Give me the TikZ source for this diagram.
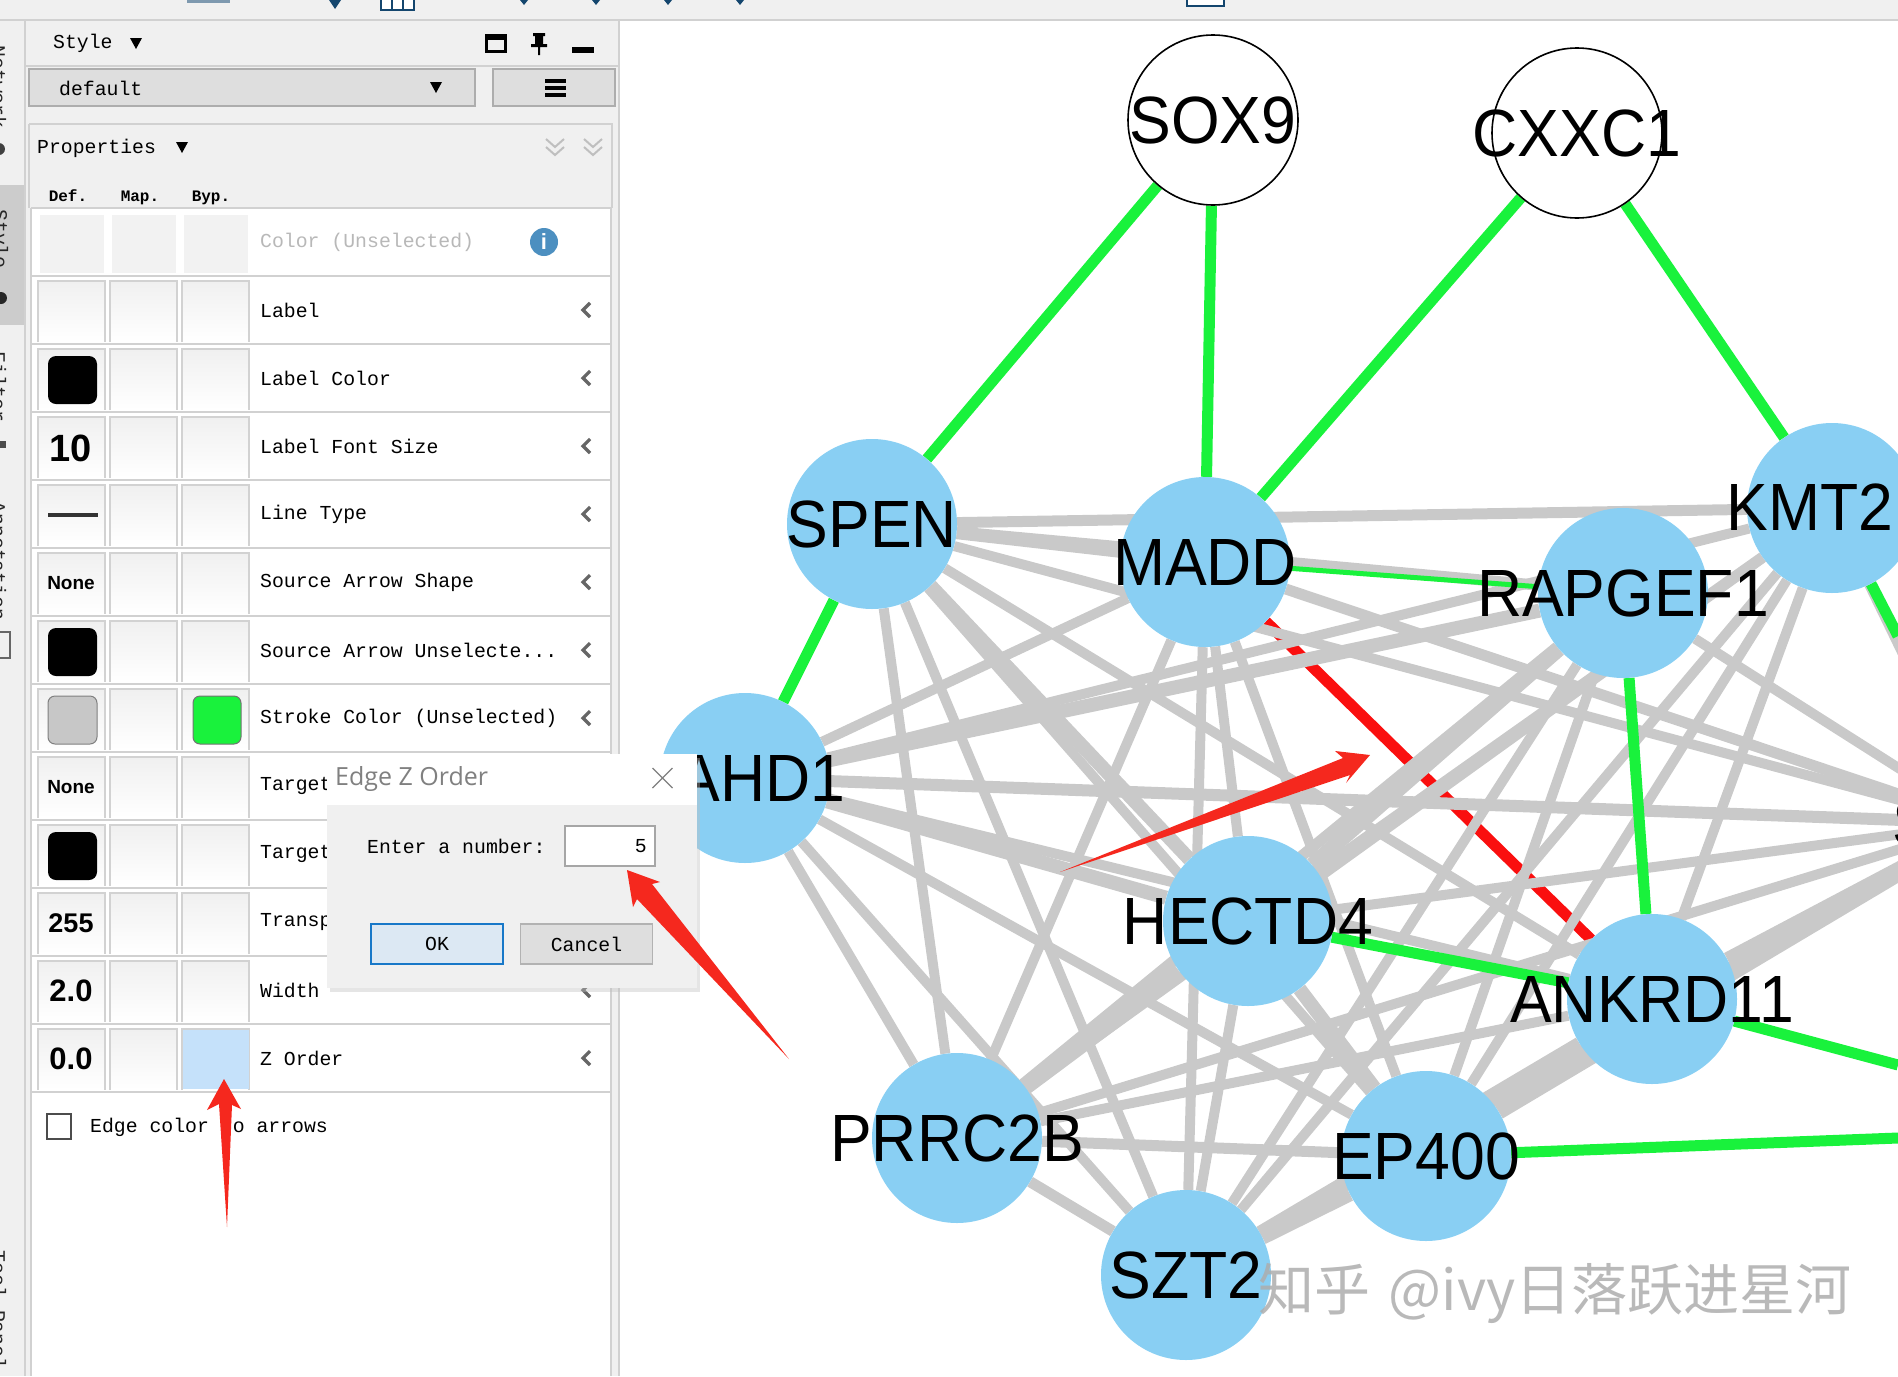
\documentclass[tikz,border=0pt]{standalone}
\usepackage{fontspec}
\usepackage{xcolor}
\usepackage{tikz}
\usetikzlibrary{calc}
\newfontfamily\genefont{Liberation Sans}
\newfontfamily\uifont{Liberation Mono}
\newfontfamily\titlefont{Open Sans}
\newfontfamily\cjkfont{Noto Sans CJK SC}
\definecolor{panelbg}{HTML}{F0F0F0}
\definecolor{cellline}{HTML}{D2D2D2}
\definecolor{genefill}{HTML}{89CFF3}
\definecolor{edgegray}{HTML}{C9C9C9}
\definecolor{edgegreen}{HTML}{19F23C}
\definecolor{edgered}{HTML}{FA0F0F}
\definecolor{markred}{HTML}{F5281E}
\definecolor{toolblue}{HTML}{14466E}
\definecolor{zblue}{HTML}{C5E1FA}
\definecolor{infoblue}{HTML}{4C8FC0}
\definecolor{okline}{HTML}{1878C8}
\definecolor{okfill}{HTML}{DCE8F3}
\pgfdeclarelayer{edgelayer}
\pgfsetlayers{edgelayer,main}
\tikzset{
  gene/.style={circle, fill=genefill, minimum size=170pt, inner sep=0pt},
  tf/.style={circle, fill=white, draw=black, line width=1.6pt, minimum size=170pt, inner sep=0pt},
  genelab/.style={text=black, inner sep=0pt, yscale=1.07, transform shape, font=\genefont\fontsize{62.5}{62.5}\selectfont},
  graylink/.style={draw=edgegray},
  greenlink/.style={draw=edgegreen, line width=11pt},
  redlink/.style={draw=edgered, line width=11pt},
  ui/.style={text=black, inner sep=0pt, anchor=west, font=\uifont\fontsize{19.8}{20}\selectfont},
  uimuted/.style={ui, text=black!28},
  uihead/.style={ui, anchor=base, font=\uifont\bfseries\fontsize{16}{16}\selectfont},
  tab/.style={ui, anchor=center, rotate=-90, text=black!85},
  num/.style={text=black, inner sep=0pt, font=\genefont\bfseries\fontsize{#1}{#1}\selectfont},
  swatch/.style={rounded corners=7pt, line width=1pt},
  cell/.style={draw=cellline, line width=1.4pt},
  chev/.style={draw=black!60, line width=3.2pt},
  sep/.style={draw=black!18, line width=1.6pt},
  dlgbtn/.style={ui, anchor=center, minimum width=132pt, minimum height=40pt, line width=1.6pt},
  marker/.style={fill=markred},
  mark text/.style={text=black!32, inner sep=0pt, anchor=west, opacity=0.85, font=\cjkfont\fontsize{56}{56}\selectfont}
}
\newcommand\srcunsel{Source Arrow Unselecte...}
\begin{document}
\begin{tikzpicture}[x=1pt,y=-1pt]
  \useasboundingbox (0,0) rectangle (1898,1376);
  % network
  \foreach \n/\x/\y in {SPEN/872/524,MADD/1205/562,KMT2/1832/508,RAPGEF1/1623/593,TAHD1/745/778,
    HECTD4/1248/921,ANKRD11/1652/999,PRRC2B/957/1138,EP400/1426/1156,SZT2/1186/1275,SX/1985/823}
    \node[gene] (\n) at (\x,\y) {};
  \node[tf] (SOX9) at (1213,120) {};
  \node[tf] (CXXC1) at (1577,133) {};
  \coordinate (rKMT) at (1898,636);
  \coordinate (rANK) at (1898,1065);
  \coordinate (rEP) at (1898,1138);
  \coordinate (KMTtext) at (1810,507);
  \coordinate (SXtext) at (1892,823);
  \begin{pgfonlayer}{edgelayer}
    \draw[redlink] (MADD) -- (ANKRD11);
    \foreach \a/\b/\w in {SPEN/KMT2/11,SPEN/RAPGEF1/11,SPEN/MADD/11,SPEN/SX/10,SPEN/ANKRD11/10,SPEN/HECTD4/14,
      SPEN/EP400/10,SPEN/SZT2/10,SPEN/PRRC2B/10,TAHD1/MADD/10,TAHD1/KMT2/10,TAHD1/RAPGEF1/14,TAHD1/SX/12,
      TAHD1/HECTD4/14,TAHD1/ANKRD11/10,TAHD1/EP400/10,TAHD1/SZT2/10,TAHD1/PRRC2B/10,MADD/HECTD4/10,MADD/PRRC2B/10,
      MADD/SZT2/10,MADD/EP400/10,MADD/SX/11,KMT2/SX/10,KMT2/HECTD4/11,KMT2/ANKRD11/10,KMT2/EP400/10,KMT2/SZT2/10,
      KMT2/PRRC2B/10,RAPGEF1/SX/10,RAPGEF1/HECTD4/15,RAPGEF1/PRRC2B/11,RAPGEF1/EP400/10,RAPGEF1/SZT2/10,
      HECTD4/SX/10,HECTD4/PRRC2B/16,HECTD4/EP400/14,HECTD4/SZT2/10,ANKRD11/SX/14,ANKRD11/EP400/19,
      ANKRD11/SZT2/11,ANKRD11/PRRC2B/10,PRRC2B/EP400/11,PRRC2B/SZT2/11,PRRC2B/SX/10,EP400/SZT2/15,EP400/SX/14,SZT2/SX/11}
      \draw[graylink, line width=\w pt] (\a) -- (\b);
    \draw[greenlink] (RAPGEF1) -- (ANKRD11);
    \foreach \a/\b in {SOX9/SPEN,SOX9/MADD,CXXC1/MADD,CXXC1/KMT2,SPEN/TAHD1,KMT2/rKMT,HECTD4/ANKRD11,ANKRD11/rANK,EP400/rEP}
      \draw[greenlink] (\a) -- (\b);
    \draw[greenlink, line width=5pt] (MADD) -- (RAPGEF1);
  \end{pgfonlayer}
  \foreach \n in {SPEN,MADD,RAPGEF1,TAHD1,HECTD4,ANKRD11,PRRC2B,EP400,SZT2,SOX9,CXXC1}
    \node[genelab] (\n-lab) at (\n) {\n};
  \node[genelab] (KMT2-lab) at (KMTtext) {KMT2};
  \node[genelab, anchor=west] (SX-lab) at (SXtext) {S};
  \node[mark text] (wmark) at (1258,1293) {知乎\hspace{6pt} @ivy日落跃进星河};
  % toolbar and side tabs
  \fill[panelbg] (0,0) rectangle (1898,20);
  \draw[sep] (0,20) -- (1898,20);
  \fill[toolblue!55] (187,0) rectangle (230,3);
  \fill[toolblue] (329,0) -- (341,0) -- (335,9) -- cycle;
  \draw[toolblue, line width=2pt, fill=white] (381,-3) rectangle (414,10);
  \draw[toolblue, line width=1.6pt] (392,-3) -- (392,10) (403,-3) -- (403,10);
  \foreach \x in {524,596,668,740}
    \fill[toolblue] (\x-4,0) -- (\x+4,0) -- (\x,5) -- cycle;
  \draw[toolblue, line width=2.2pt, fill=white] (1187,-3) rectangle (1224,6);
  \fill[panelbg] (0,21) rectangle (24,1376);
  \fill[black!20] (0,185) rectangle (24,325);
  \foreach \t/\y in {Network/87,Style/239,Filter/387,Annotation/561,Tool Panel/1310}
    \node[tab] (tab-\y) at (-1,\y) {\t};
  \fill[black!75] (-1,149) circle (6);
  \fill[black!85] (1,298) circle (6);
  \fill[black!70] (-3,441) rectangle (6,448);
  \draw[black!60, line width=1.6pt] (-3,632) rectangle (10,658);
  % style panel
  \fill[panelbg] (24,21) rectangle (620,1376);
  \draw[black!18, line width=1.4pt] (25,21) -- (25,1376) (619,21) -- (619,1376);
  \node[ui] (stylehead) at (53,43) {Style};
  \draw[black, line width=3pt] (486,35) rectangle (505,51);
  \draw[black, line width=3pt] (486,38) -- (505,38);
  \fill[black] (533,33) rectangle (545,36) (535,36) rectangle (543,44) (531,44) rectangle (547,47) (538,47) rectangle (540,55);
  \fill[black] (572,47) rectangle (594,53);
  \draw[sep] (25,66) -- (619,66);
  \draw[black!32, line width=1.6pt, fill=black!13] (29,69) rectangle (475,106);
  \node[ui] (stylename) at (59,88) {default};
  \draw[black!32, line width=1.6pt, fill=black!13] (493,69) rectangle (615,106);
  \draw[black, line width=3.6pt] (545,81) -- (566,81) (545,88) -- (566,88) (545,95) -- (566,95);
  \foreach \x/\y in {136/43,436/87,182/147}
    \fill[black] (\x-6,\y-5) -- (\x+6,\y-5) -- (\x,\y+6) -- cycle;
  \draw[sep] (29,124) -- (612,124) -- (612,208);
  \draw[sep] (29,124) -- (29,208);
  \node[ui] (prophead) at (37,148) {Properties};
  \foreach \x in {555,593}
    \draw[black!25, line width=2pt] (\x-9,139) -- (\x,147) -- (\x+9,139) (\x-9,147) -- (\x,155) -- (\x+9,147);
  \node[uihead] (defhead) at (68,201) {Def.};
  \node[uihead] (maphead) at (140,201) {Map.};
  \node[uihead] (byphead) at (211,201) {Byp.};
  \fill[white] (31,208) rectangle (611,1376);
  \draw[black!18, line width=1.4pt] (31,208) -- (611,208) -- (611,1376) (31,208) -- (31,1376);
  % rows
  \foreach \x in {40,112,184}
    \fill[black!5] (\x,215) rectangle (\x+64,273);
  \foreach \i in {1,...,12}
    \foreach \x in {38,110,182} {
      \path[top color=panelbg, bottom color=white] (\x,208+68*\i+5) rectangle (\x+67,208+68*\i+66);
      \draw[cell] (\x,208+68*\i+66) -- (\x,208+68*\i+5) -- (\x+67,208+68*\i+5) -- (\x+67,208+68*\i+66);
    }
  \foreach \i in {1,...,13}
    \draw[sep] (31,208+68*\i) -- (611,208+68*\i);
  \node[uimuted] (rowtext0) at (260,242) {Color (Unselected)};
  \foreach \i/\t in {1/Label,2/Label Color,3/Label Font Size,4/Line Type,5/Source Arrow Shape,
    6/\srcunsel,7/Stroke Color (Unselected),8/Target,9/Target,10/Transp,11/Width,12/Z Order} {
    \node[ui] (rowtext\i) at (260,208+68*\i+34) {\t};
    \draw[chev] (590,208+68*\i+27) -- (583,208+68*\i+34) -- (590,208+68*\i+41);
  }
  \node[circle, fill=infoblue, text=white, inner sep=0pt, minimum size=28pt, font=\genefont\bfseries\fontsize{22}{22}\selectfont] (info) at (544,242) {i};
  \foreach \i in {2,6,9}
    \fill[black, rounded corners=8pt] (48,208+68*\i+12) rectangle (97,208+68*\i+60);
  \draw[swatch, draw=black!50, fill=black!22] (48,696) rectangle (97,744);
  \draw[swatch, draw=black!55, fill=edgegreen] (193,696) rectangle (241,744);
  \fill[zblue] (183,1030) rectangle (249,1089);
  \node[num=38] (numsize) at (71,448) {10};
  \draw[black!80, line width=3.4pt] (48,515) -- (98,515);
  \node[num=19] (numsrc) at (71,583) {None};
  \node[num=19] (numtgt) at (71,787) {None};
  \node[num=27] (numtr) at (71,923) {255};
  \node[num=31] (numw) at (71,991) {2.0};
  \node[num=31] (numz) at (71,1059) {0.0};
  \draw[black!70, line width=1.6pt, fill=white] (47,1114) rectangle (71,1139);
  \node[ui] (edgecol) at (90,1127) {Edge color to arrows};
  % dialog
  \fill[black!25, opacity=0.4] (330,758) rectangle (700,992);
  \fill[panelbg] (327,754) rectangle (697,988);
  \fill[white] (327,754) rectangle (697,805);
  \node[inner sep=0pt, anchor=west, text=black!50, font=\titlefont\fontsize{25}{25}\selectfont] (dlgtitle) at (335,779) {Edge Z Order};
  \draw[black!50, line width=1.2pt] (652.5,768) -- (672.5,788) (652.5,788) -- (672.5,768);
  \node[ui] (dlgask) at (367,846) {Enter a number:};
  \draw[black!35, line width=1.6pt, fill=white] (565,826) rectangle (655,866);
  \node[ui, anchor=east] (dlgval) at (647,846) {5};
  \node[dlgbtn, draw=okline, fill=okfill, line width=2.4pt] (okbtn) at (437,944) {OK};
  \node[dlgbtn, draw=black!30, fill=black!13] (cancelbtn) at (586.5,944) {Cancel};
  % red markers
  \fill[marker] (224,1079) -- (241,1109) -- (232,1105) -- (227,1227) -- (219,1104) -- (207,1110) -- cycle;
  \fill[marker] (627,870) -- (660,882) -- (652,884) -- (789,1059) -- (637,899) -- (633,907) -- cycle;
  \fill[marker] (1370,755) -- (1335,751) -- (1343,758) -- (1060,872) -- (1350,775) -- (1346,783) -- cycle;
\end{tikzpicture}
\end{document}
